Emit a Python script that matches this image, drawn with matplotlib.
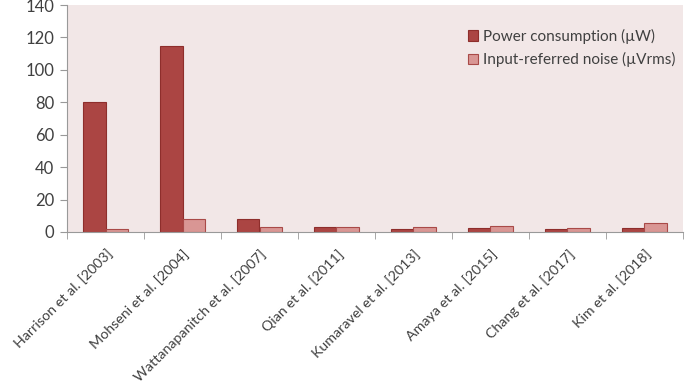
import matplotlib
matplotlib.use("Agg")
import matplotlib.pyplot as plt
import numpy as np

authors = ["Harrison et al. [2003]", "Mohseni et al. [2004]", "Wattanapanitch et al. [2007]",
           "Qian et al. [2011]", "Kumaravel et al. [2013]", "Amaya et al. [2015]",
           "Chang et al. [2017]", "Kim et al. [2018]"]
power_uw = [80, 115, 8, 3, 1.6, 2.3, 1.6, 2.3]
noise_uvrms = [2.1, 7.8, 3, 3, 3, 3.9, 2.5, 5.6]

plt.rcParams['font.family'] = ['Lato', 'DejaVu Sans']
txt = '#404040'

fig = plt.figure(figsize=(6.85, 3.92), dpi=100)
ax = fig.add_axes([67/685, 1-232/392, 616/685, 227/392])
ax.set_facecolor('#F2E7E7')

x = np.arange(len(authors))
w = 0.29
ax.bar(x - w/2, power_uw, w, color='#AB4543', edgecolor='#8E2E2C', linewidth=0.8,
       label='Power consumption (\u00b5W)')
ax.bar(x + w/2, noise_uvrms, w, color='#D99694', edgecolor='#A94A48', linewidth=0.8,
       label='Input-referred noise (\u00b5Vrms)')

ax.set_xlim(-0.5, len(authors) - 0.5)
ax.set_ylim(0, 140)
ax.set_yticks(np.arange(0, 141, 20))
ax.set_xticks(x)
ax.set_xticklabels(authors, rotation=45, ha='right', rotation_mode='anchor', fontsize=10.3, color=txt)
ax.set_xticks(np.arange(-0.5, len(authors)), minor=True)
ax.tick_params(axis='x', which='major', length=0, pad=11)
ax.tick_params(axis='x', which='minor', length=5, color='#999999')
ax.tick_params(axis='y', labelsize=12, labelcolor=txt, color='#999999', length=5, pad=4)

for s in ['top', 'right']:
    ax.spines[s].set_visible(False)
for s in ['left', 'bottom']:
    ax.spines[s].set_color('#999999')

leg = ax.legend(loc='upper right', bbox_to_anchor=(1.01, 0.955), frameon=False, fontsize=11,
                handlelength=0.7, handleheight=0.7, handletextpad=0.3, labelspacing=0.55)
for t in leg.get_texts():
    t.set_color(txt)

fig.savefig('out.png', dpi=100)
